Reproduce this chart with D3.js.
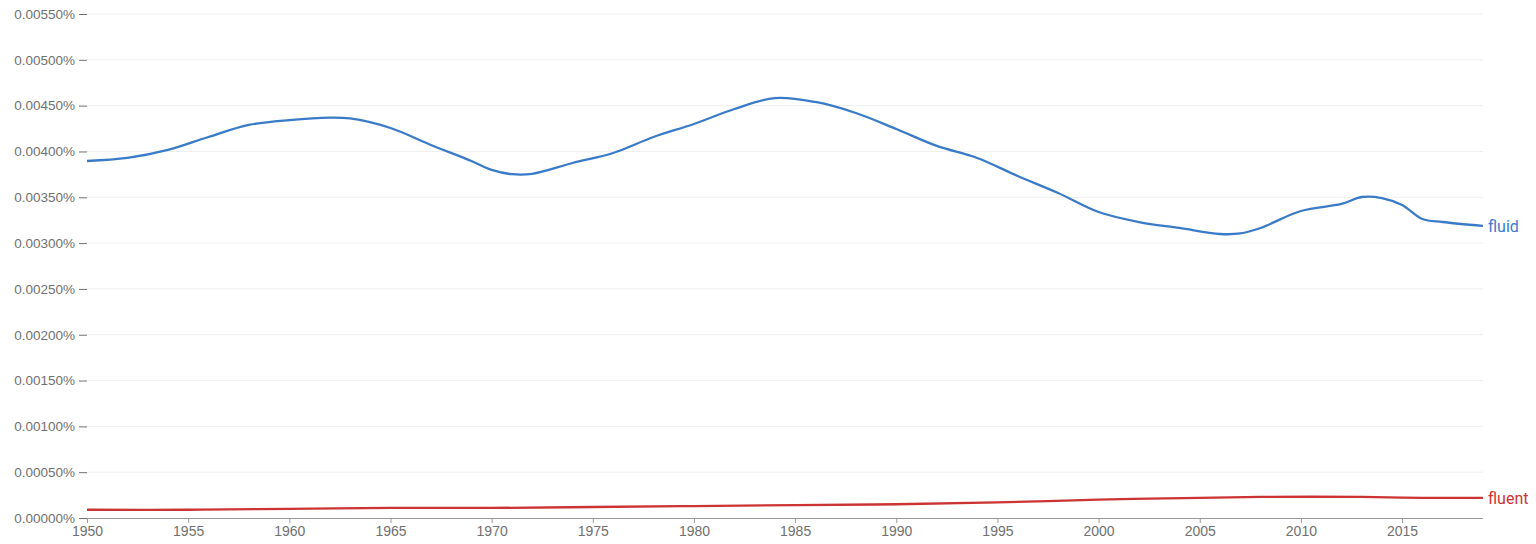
<!DOCTYPE html>
<html><head><meta charset="utf-8">
<script src="https://cdn.jsdelivr.net/npm/d3@7"></script>
<style>body{margin:0;background:#fff}svg{font-family:Roboto,sans-serif}</style>
</head><body><svg id="c" width="1536" height="544"></svg>
<script>
const fluidYears=[1950,1952,1954,1956,1958,1960,1962,1963,1965,1967,1969,1970,1971,1972,1974,1976,1978,1980,1982,1984,1986,1988,1990,1992,1994,1996,1998,2000,2002,2004,2006,2007,2008,2010,2012,2013,2014,2015,2016,2017,2019];
const fluidValues=[0.003896,0.003929,0.004016,0.004158,0.004289,0.004343,0.004370,0.004360,0.004256,0.004071,0.003896,0.003798,0.003752,0.003756,0.003874,0.003983,0.004158,0.004300,0.004463,0.004583,0.004540,0.004420,0.004245,0.004060,0.003929,0.003732,0.003547,0.003339,0.003230,0.003165,0.003099,0.003105,0.003165,0.003350,0.003427,0.003503,0.003492,0.003416,0.003263,0.003230,0.003187];
const fluentYears=[1950,1955,1960,1965,1970,1975,1980,1985,1990,1995,2000,2005,2008,2013,2016,2019];
const fluentValues=[0.00009,0.00009,0.00010,0.00011,0.00011,0.00012,0.00013,0.00014,0.00015,0.00017,0.00020,0.00022,0.00023,0.00023,0.00022,0.00022];
const yTicks=[0,0.0005,0.001,0.0015,0.002,0.0025,0.003,0.0035,0.004,0.0045,0.005,0.0055];
const xTicks=[1950,1955,1960,1965,1970,1975,1980,1985,1990,1995,2000,2005,2010,2015];
const seriesNames=["fluid","fluent"];

const svg=d3.select("#c");
const x=d3.scaleLinear().domain([1950,2019]).range([87,1483]);
const y=d3.scaleLinear().domain([0,0.0055]).range([518,14]);
const grey="#707070";
svg.append("g").selectAll("line").data(yTicks.slice(1)).join("line")
 .attr("x1",87).attr("x2",1483).attr("y1",d=>y(d)).attr("y2",d=>y(d)).attr("stroke","#efefef");
const ya=svg.append("g").attr("transform","translate(87,0)")
 .call(d3.axisLeft(y).tickValues(yTicks).tickFormat(d=>d.toFixed(5)+"%").tickSize(8).tickPadding(4));
ya.select(".domain").remove();
ya.selectAll("line").attr("stroke",grey);
ya.selectAll("text").attr("fill",grey).style("font-size","13.5px");
const xa=svg.append("g").attr("transform","translate(0,518)")
 .call(d3.axisBottom(x).tickValues(xTicks).tickFormat(d3.format("d")).tickSize(5).tickPadding(3));
xa.select(".domain").attr("stroke","#999").attr("d","M87,0.5H1483");
xa.selectAll("line").attr("stroke","#999");
xa.selectAll("text").attr("fill",grey).style("font-size","14px");
const line=d3.line().x(d=>x(d[0])).y(d=>y(d[1])).curve(d3.curveCatmullRom.alpha(0.5));
const series=[[fluidYears,fluidValues,"#3a7bc8"],[fluentYears,fluentValues,"#cc3333"]];
series.forEach(([ys,vs,col],i)=>{
 const pts=ys.map((yr,j)=>[yr,vs[j]]);
 svg.append("path").datum(pts).attr("d",line).attr("fill","none").attr("stroke",col).attr("stroke-width",2.3);
 const last=pts[pts.length-1];
 svg.append("text").attr("x",x(last[0])+5).attr("y",y(last[1])+6).attr("fill",col).style("font-size","16px").text(seriesNames[i]);
});
</script></body></html>
